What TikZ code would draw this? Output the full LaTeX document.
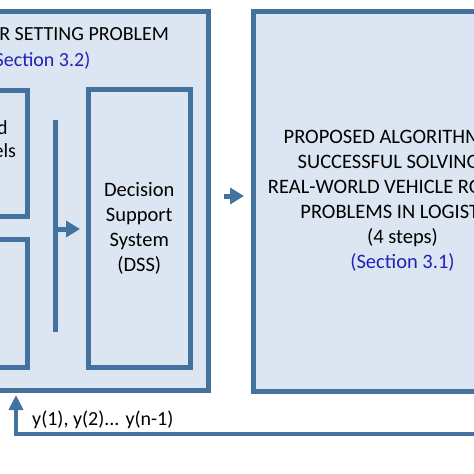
\documentclass[tikz,border=0pt]{standalone}
\usepackage{fontspec}
\setmainfont{Carlito}
\usetikzlibrary{arrows.meta}
\definecolor{edge}{HTML}{44729E}
\definecolor{pane}{HTML}{DCE6F2}
\definecolor{secblue}{HTML}{2222B8}
\tikzset{
  panel/.style={draw=edge, fill=pane, line width=5pt, rectangle, inner sep=0pt, anchor=north west,
    font=\fontsize{20.5}{25}\selectfont, align=center},
  txt/.style={font=\fontsize{20}{25}\selectfont, align=center, inner sep=0pt},
  flow/.style={draw=edge, line width=5pt, -{Triangle[length=14pt,width=16pt]}},
  bus/.style={draw=edge, line width=5pt},
  back/.style={draw=edge, line width=4.5pt, -{Triangle[length=15pt,width=14pt]}},
}
\begin{document}
\begin{tikzpicture}[x=1pt,y=-1pt]
\useasboundingbox (0,0) rectangle (474,474);
\fill[white] (0,0) rectangle (474,474);
\clip (0,0) rectangle (474,474);
% outer panels
\node[panel, minimum width=344.5pt, minimum height=379.5pt] (P) at (-139,8.5) {};
\node[panel, minimum width=299pt, minimum height=380.5pt] (R) at (250.5,8.5)
  {PROPOSED ALGORITHM FOR\\SUCCESSFUL SOLVING OF\\REAL-WORLD VEHICLE ROUTING\\PROBLEMS IN LOGISTICS\\(4 steps)\\{\color{secblue}(Section 3.1)}};
% title of left panel
\node[txt, font=\fontsize{20}{26}\selectfont] (T) at (39.5,48)
  {PARAMETER SETTING PROBLEM\\{\color{secblue}(Section 3.2)}};
% inner boxes
\node[panel, minimum width=106.7pt, minimum height=126.5pt] (A) at (-82,87.5) {};
\node[panel, minimum width=106.7pt, minimum height=128pt] (B) at (-82,237) {};
\node[txt, font=\fontsize{20}{23}\selectfont] (At) at (-28.7,139) {Data and\\ML models};
\node[panel, minimum width=101.5pt, minimum height=278.5pt] (D) at (86,86.5)
  {Decision\\Support\\System\\(DSS)};
% bus line and arrow into DSS
\coordinate (busTop) at (55,120);
\coordinate (busBot) at (55,332);
\coordinate (busTap) at (55,229);
\draw[bus] (busTop) -- (busBot);
\draw[flow, shorten >=6pt] (busTap) -- (busTap -| D.west);
% arrow between panels
\coordinate (lvl) at (228,196);
\draw[flow, shorten <=13.5pt, shorten >=6.5pt] (P.east |- lvl) -- (R.west |- lvl);
% feedback
\coordinate (fbR) at (500,434);
\coordinate (fbL) at (16,434);
\draw[back, shorten >=2pt] (fbR) -- (fbL) -- (P.south -| fbL);
\node[txt, anchor=west] (fbt) at (32,420) {y(1), y(2)... y(n-1)};
\end{tikzpicture}
\end{document}
